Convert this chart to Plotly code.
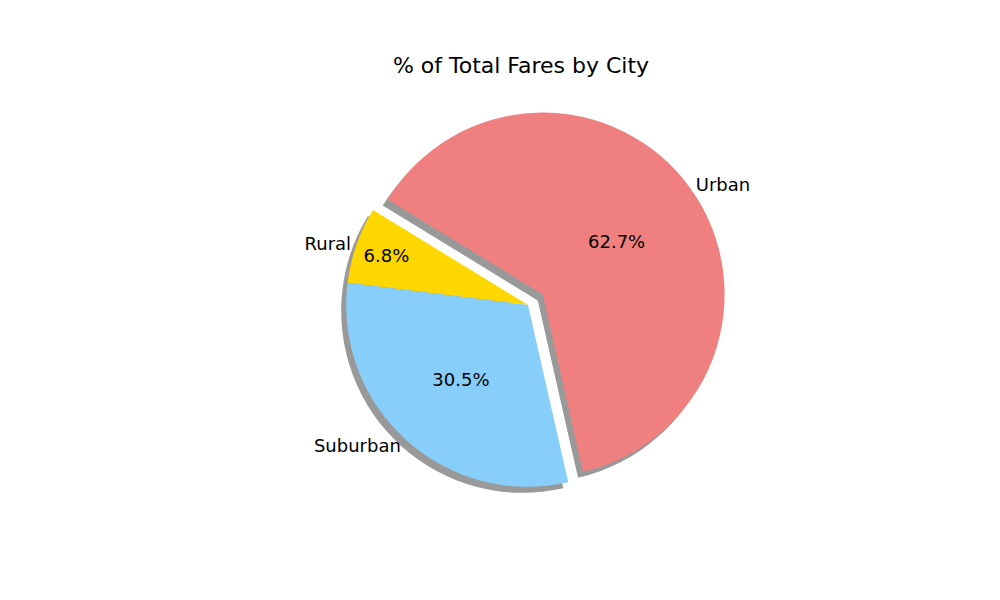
import plotly.graph_objects as go

cities = ["Rural", "Suburban", "Urban"]
fares_pct = [6.8, 30.5, 62.7]
colors = ["gold", "lightskyblue", "lightcoral"]
pulls = [0, 0, 0.1]

dom_x = [0.32, 0.72]
dom_y = [0.17, 0.84]
common = dict(labels=cities, values=fares_pct, sort=False, direction="counterclockwise",
              rotation=-83, pull=pulls, hoverinfo="skip")

fig = go.Figure()
# shadow
fig.add_trace(go.Pie(**common, marker=dict(colors=["rgba(0,0,0,0.4)"]*3),
                     textinfo="none", domain=dict(x=[dom_x[0]-0.005, dom_x[1]-0.005], y=[dom_y[0]-0.01, dom_y[1]-0.01]),
                     showlegend=False))
# main pie with percents
fig.add_trace(go.Pie(**common, marker=dict(colors=colors), textinfo="percent",
                     texttemplate="%{percent:.1%}", textposition="inside", insidetextorientation="horizontal",
                     textfont=dict(size=18, color="black", family="DejaVu Sans"),
                     domain=dict(x=dom_x, y=dom_y), showlegend=False))
# outside labels
fig.add_trace(go.Pie(**common, marker=dict(colors=["rgba(0,0,0,0)"]*3), textinfo="label",
                     textposition="outside", textfont=dict(size=18, color="black", family="DejaVu Sans"),
                     domain=dict(x=dom_x, y=dom_y), showlegend=False))

fig.update_layout(width=1000, height=600, paper_bgcolor="white", plot_bgcolor="white",
                  margin=dict(l=0, r=0, t=0, b=0),
                  title=dict(text="% of Total Fares by City", x=0.513, xanchor="center", y=0.905, yanchor="middle",
                             font=dict(size=22, color="black", family="DejaVu Sans")))
fig.write_html("out.html")
